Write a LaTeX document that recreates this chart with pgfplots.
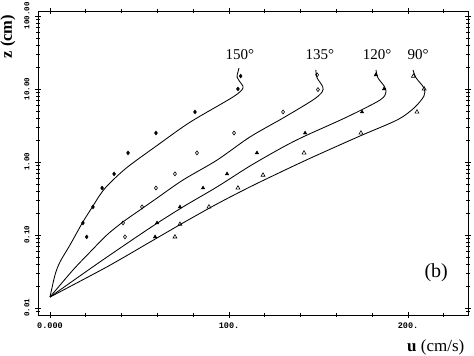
\documentclass[border=0pt]{standalone}
\usepackage{pgfplots}
\pgfplotsset{compat=1.18}
\usepackage{fontspec}
\setmainfont{Liberation Serif}
\newfontfamily\tickfont{Liberation Mono}
\begin{document}
\begin{tikzpicture}
\useasboundingbox (-38pt,-41pt) rectangle (436pt,315pt);
\begin{axis}[
  at={(0,0)}, anchor=south west,
  scale only axis, width=430pt, height=304pt,
  ymode=log,
  xmin=-6.7, xmax=233.5,
  ymin=0.008, ymax=117,
  xtick={0,100,200},
  xticklabels={\mbox{0.000},\mbox{100.},\mbox{200.}},
  minor xtick={20,40,60,80,120,140,160,180,220},
  ytick={0.01,0.1,1,10,100},
  yticklabels={\mbox{0.01},\mbox{0.10},\mbox{1.00},\mbox{10.00},\mbox{100.00}},
  minor ytick={0.009,0.02,0.03,0.04,0.05,0.06,0.07,0.08,0.09,0.2,0.3,0.4,0.5,0.6,0.7,0.8,0.9,2,3,4,5,6,7,8,9,20,30,40,50,60,70,80,90},
  tick align=center,
  major tick length=6pt, minor tick length=4pt,
  every tick/.style={black, line width=0.7pt},
  axis line style={line width=0.9pt},
  xticklabel style={font=\tickfont\bfseries\fontsize{8.5}{8.5}\selectfont, anchor=center},
  xticklabel shift=8pt,
  yticklabel style={font=\tickfont\bfseries\fontsize{7.5}{7.5}\selectfont, anchor=center, rotate=90},
  yticklabel shift=8pt,
  xlabel={\textbf{u} (cm/s)},
  ylabel={\textbf{z (cm)}},
  xlabel style={font=\fontsize{17}{17}\selectfont, at={(axis description cs:0.925,-0.105)}, anchor=center},
  ylabel style={font=\fontsize{16.5}{16.5}\selectfont, at={(axis description cs:-0.0698,0.916)}, anchor=center},
  clip=false,
]
% 150 deg
\addplot[black, line width=0.85pt, smooth, tension=0.5] coordinates {
(0,0.0141) (2.8,0.0283) (5.6,0.0427) (11.2,0.073) (18.4,0.151) (24.0,0.249) (27.9,0.353) (32.4,0.484) (43.0,0.84) (59.8,1.68) (78.2,3.5) (102.2,7.76) (107.8,10.3) (106.1,12.5) (104.5,14.6) (105,17.1) (105.6,19.4)};
\addplot[only marks, mark=diamond*, mark size=2pt, black] coordinates {
(20.5,0.094) (18.4,0.146) (24.0,0.242) (29.1,0.44) (35.8,0.686) (43.6,1.33) (59.2,2.49) (81.0,4.84) (105,10) (106.5,15)};
% 135 deg
\addplot[black, line width=0.85pt, smooth, tension=0.5] coordinates {
(0,0.0141) (12.8,0.033) (22.3,0.058) (31.8,0.1) (40.8,0.151) (50.3,0.22) (59.8,0.32) (74.3,0.566) (93.3,1.06) (111.7,2.2) (130.2,4.0) (146.9,7.06) (152,9.1) (152.3,10.8) (149.2,14.2) (148.5,18.2)};
\addplot[only marks, mark=diamond, mark size=2pt, black, fill=white, line width=0.6pt] coordinates {
(41.9,0.094) (40.8,0.146) (51.4,0.242) (59.2,0.44) (69.8,0.686) (82.1,1.33) (102.8,2.49) (130.2,4.84) (149.7,9.8) (149.2,15.6)};
% 120 deg
\addplot[black, line width=0.85pt, smooth, tension=0.5] coordinates {
(0,0.0141) (27.9,0.0427) (55.9,0.125) (74.3,0.242) (93.3,0.455) (111.7,0.88) (130.2,1.60) (142.5,2.27) (165.9,4.13) (184.4,7.06) (187.7,9.1) (186.6,11) (183.2,14.2) (182.1,18.2)};
\addplot[only marks, mark=triangle*, mark size=2pt, black] coordinates {
(58.7,0.094) (59.8,0.146) (72.6,0.242) (85.5,0.44) (98.9,0.686) (115.6,1.33) (142.5,2.49) (174.3,4.84) (186.6,10) (182,15.6)};
% 90 deg
\addplot[black, line width=0.85pt, smooth, tension=0.5] coordinates {
(0,0.0141) (31.8,0.0365) (55.9,0.080) (74.3,0.146) (93.3,0.266) (111.7,0.455) (130.2,0.753) (146.9,1.17) (173.2,2.27) (193.9,3.76) (203.4,5.5) (208.9,8.0) (208.9,10.3) (204.5,14.2) (202.8,18.2)};
\addplot[only marks, mark=triangle, mark size=2.3pt, black, line width=0.6pt] coordinates {
(69.8,0.094) (72.6,0.14) (88.8,0.242) (105,0.44) (119,0.66) (141.9,1.33) (173.7,2.49) (205,4.84) (209,10) (203,15)};
\node[font=\fontsize{15}{15}\selectfont] at (axis cs:106.1,29.2) {150°};
\node[font=\fontsize{15}{15}\selectfont] at (axis cs:150.8,29.2) {135°};
\node[font=\fontsize{15}{15}\selectfont] at (axis cs:182.7,29.2) {120°};
\node[font=\fontsize{15}{15}\selectfont] at (axis cs:205.6,29.2) {90°};
\node[font=\fontsize{20}{20}\selectfont] at (axis description cs:0.926,0.138) {(b)};
\end{axis}
\end{tikzpicture}
\end{document}
